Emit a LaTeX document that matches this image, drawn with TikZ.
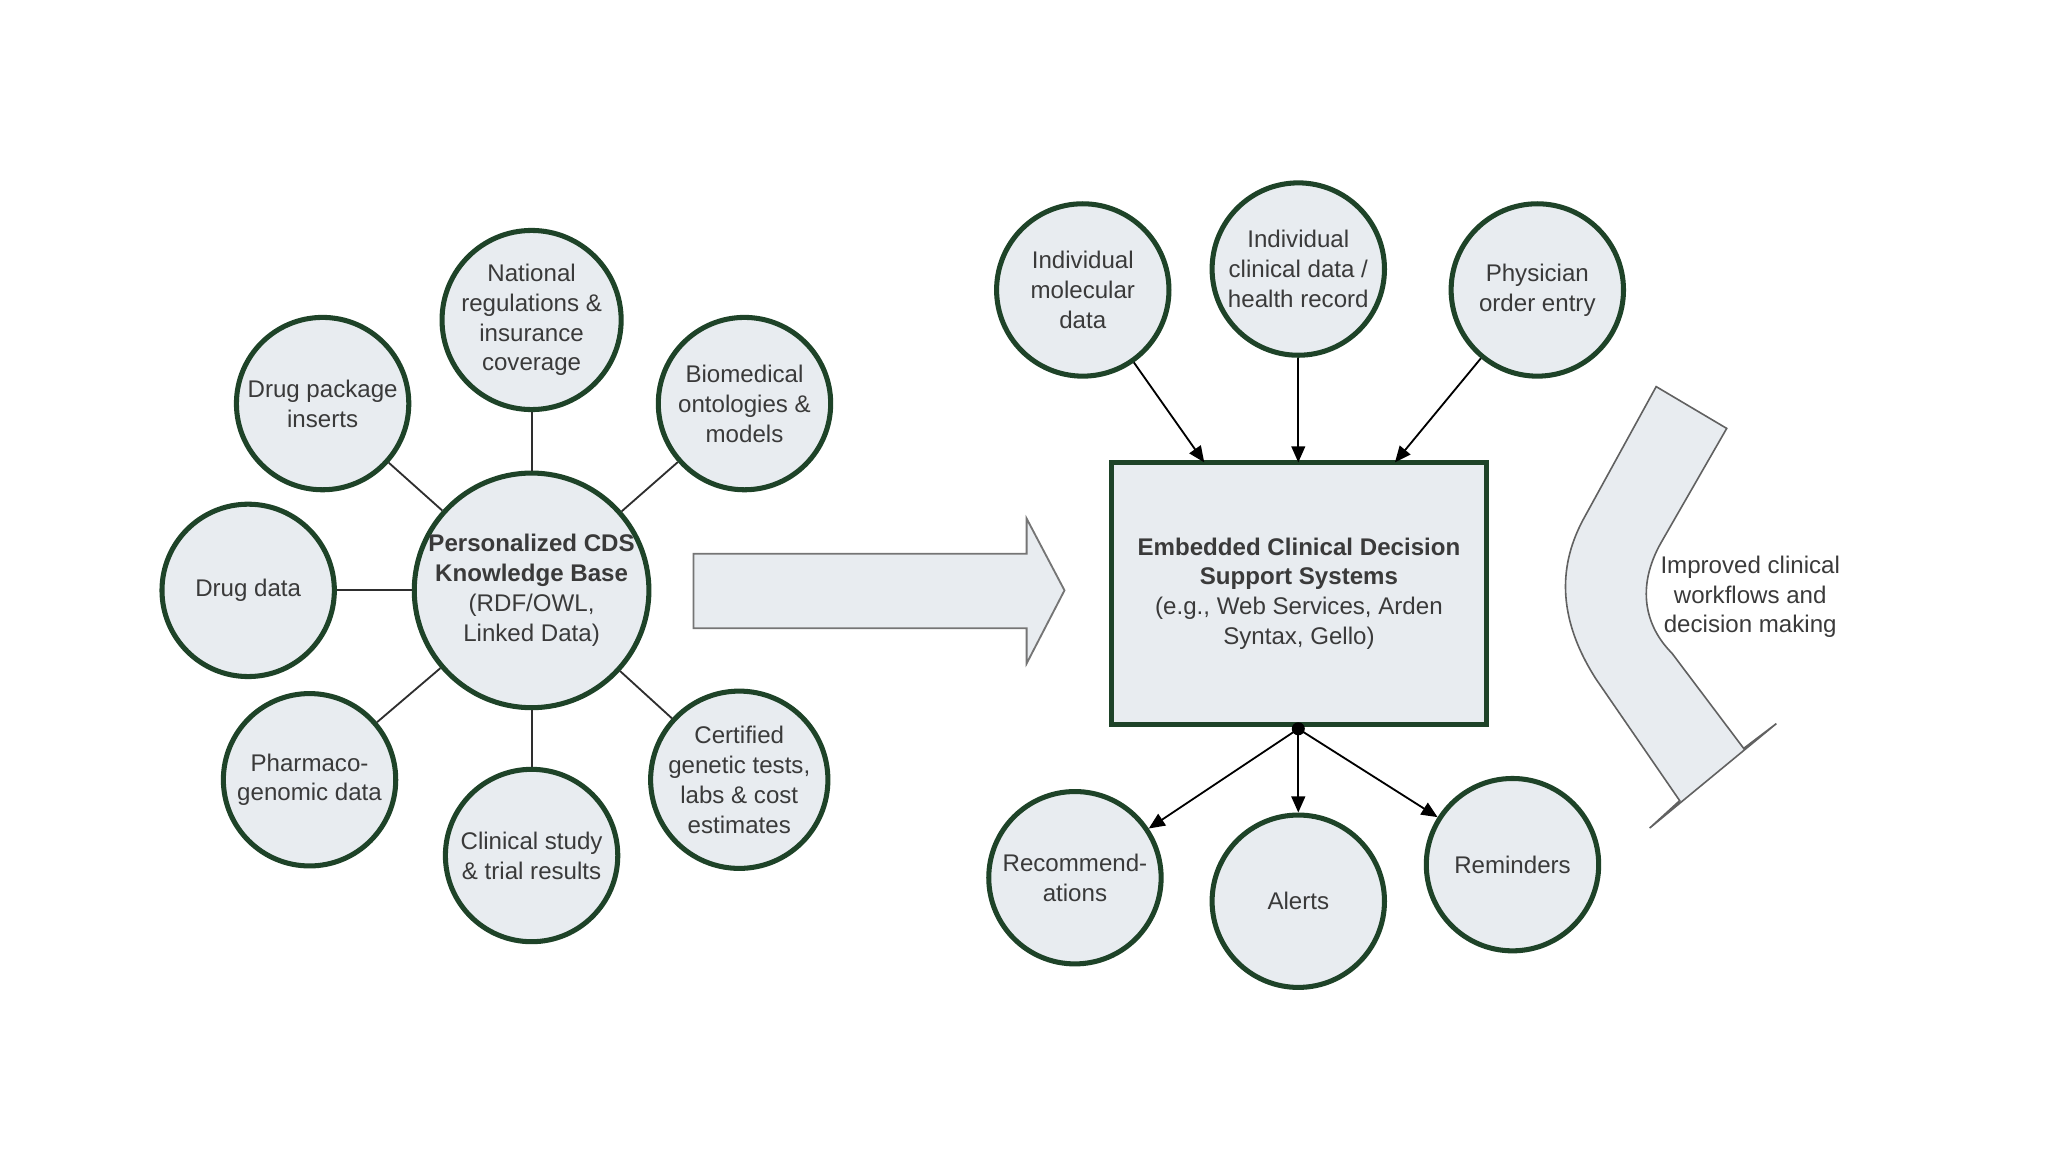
\documentclass[tikz,border=0pt]{standalone}
\usepackage{fontspec}
\setmainfont{Liberation Sans}
\usetikzlibrary{arrows.meta}
\definecolor{cfill}{HTML}{E8ECF0}
\definecolor{cedge}{HTML}{1E4328}
\definecolor{ctext}{HTML}{3A3A3A}
\tikzset{
  sat/.style={circle,draw=cedge,fill=cfill,line width=2.2pt,minimum size=2.64cm,inner sep=0pt,align=center,font=\fontsize{10.5}{13}\selectfont,text=ctext},
  link/.style={draw=ctext!80!black,line width=0.8pt},
  arr/.style={draw=black,line width=0.8pt,-{Triangle[length=7pt,width=6pt]}},
}
\begin{document}
\begin{tikzpicture}[x=0.02cm,y=-0.02cm]
\useasboundingbox (0,0) rectangle (1568,882);
% left cluster
\node[sat,minimum size=3.4cm] (kb) at (407,452) {\textbf{Personalized CDS}\\\textbf{Knowledge Base}\\(RDF/OWL,\\Linked Data)};
\node[sat] (nat) at (407,245) {National\\regulations \&\\insurance\\coverage};
\node[sat] (dpi) at (247,309) {Drug package\\inserts};
\node[sat] (bio) at (570,309) {Biomedical\\ontologies \&\\models};
\node[sat] (dd) at (190,452) {Drug data};
\node[sat] (ph) at (237,597) {Pharmaco-\\genomic data};
\node[sat] (cs) at (407,655) {Clinical study\\\& trial results};
\node[sat] (cg) at (566,597) {Certified\\genetic tests,\\labs \& cost\\estimates};
\foreach \n in {nat,dpi,bio,dd,ph,cs,cg} \draw[link] (kb) -- (\n);
% big arrow
\draw[draw=ctext!70,fill=cfill,line width=0.8pt] (531,424) -- (786,424) -- (786,397) -- (815,452) -- (786,508) -- (786,481) -- (531,481) -- cycle;
% box
\node[draw=cedge,fill=cfill,line width=2.2pt,minimum width=5.74cm,minimum height=4.02cm,align=center,font=\fontsize{10.5}{13}\selectfont,text=ctext] (box) at (994.5,454.5) {\textbf{Embedded Clinical Decision}\\\textbf{Support Systems}\\(e.g., Web Services, Arden\\Syntax, Gello)};
\node[sat] (im) at (829,222) {Individual\\molecular\\data};
\node[sat] (ic) at (994,206) {Individual\\clinical data /\\health record};
\node[sat] (po) at (1177,222) {Physician\\order entry};
\draw[arr] (im) -- (922,354);
\draw[arr] (ic) -- (994,354);
\draw[arr] (po) -- (1068,354);
\node[sat] (rec) at (823,672) {Recommend-\\ations};
\node[sat] (al) at (994,690) {Alerts};
\node[sat] (rem) at (1158,662) {Reminders};
\coordinate (hub) at (994,558);
\fill[black] (hub) circle (5);
\draw[arr] (hub) -- (rec);
\draw[arr] (hub) -- (al);
\draw[arr] (hub) -- (rem);
% curved arrow
\draw[draw=ctext!80,fill=cfill,line width=0.7pt] (1268,296) -- (1322,328) -- (1272,415) .. controls (1252,450) and (1260,480) .. (1280,500) -- (1335,573) -- (1360,554) -- (1263,634) -- (1286,613) -- (1222,520) .. controls (1190,470) and (1195,430) .. (1212,398) -- cycle;
\node[align=center,font=\fontsize{10.5}{13}\selectfont,text=ctext] (imp) at (1340,457) {Improved clinical\\workflows and\\decision making};
\end{tikzpicture}
\end{document}
